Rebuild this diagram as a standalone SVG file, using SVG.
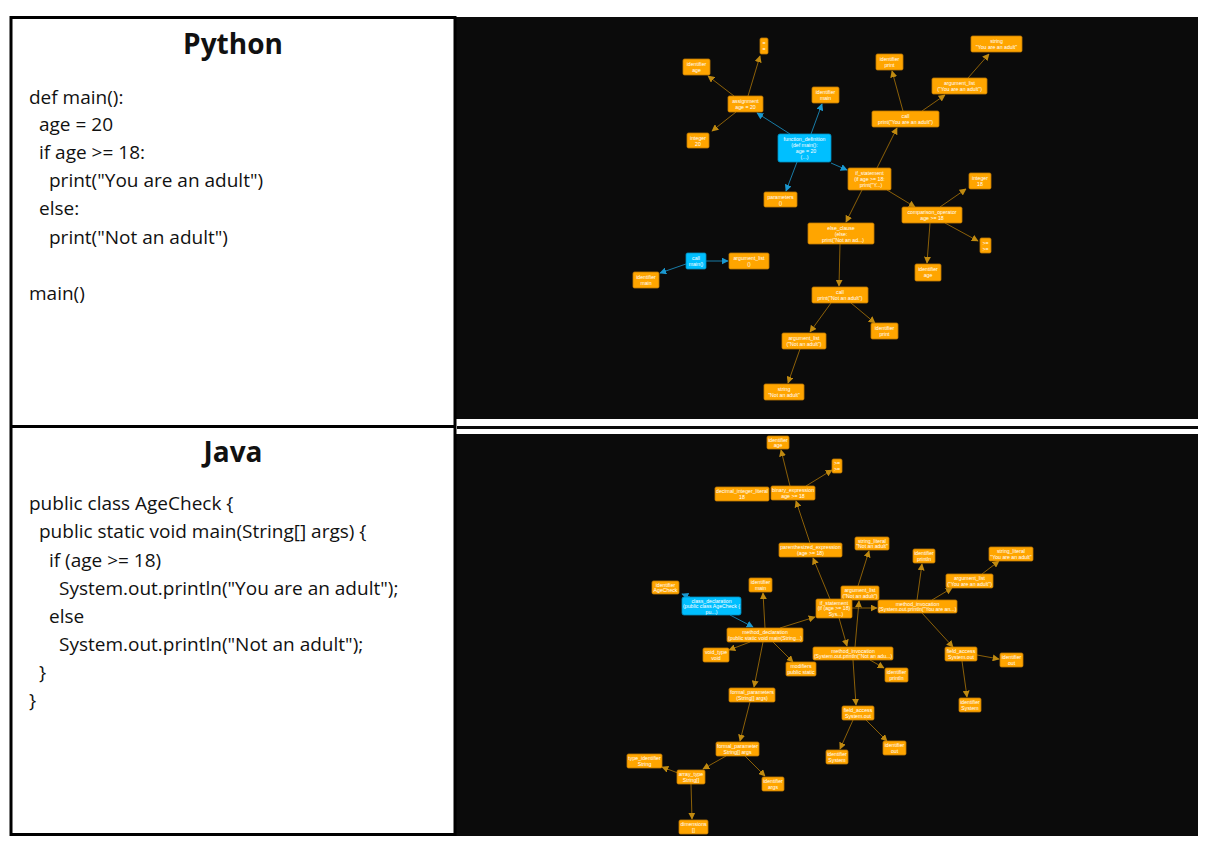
<svg xmlns="http://www.w3.org/2000/svg" width="1206" height="854" viewBox="0 0 1206 854">
<style>
.code{font-family:"Open Sans","Liberation Sans",sans-serif;font-size:19px;fill:#111}
.title{font-family:"Open Sans","Liberation Sans",sans-serif;font-size:28px;font-weight:bold;fill:#111;text-anchor:middle}
.n rect{fill:#FFA500;stroke:#C07800;stroke-width:0.8}
.b rect{fill:#00BFFF;stroke:#0090C0;stroke-width:0.8}
.n text,.b text{font-family:"Liberation Sans",sans-serif;font-size:5.2px;fill:#fff;text-anchor:middle}
.e line{stroke:#9A6A08;stroke-width:0.9;marker-end:url(#ao)}
.e line.bl{stroke:#1A88B8;marker-end:url(#ab)}
</style>
<defs>
<marker id="ao" viewBox="0 0 10 10" refX="9" refY="5" markerWidth="7" markerHeight="7" orient="auto" markerUnits="userSpaceOnUse"><path d="M0,0L10,5L0,10z" fill="#C08A10"/></marker>
<marker id="ab" viewBox="0 0 10 10" refX="9" refY="5" markerWidth="7" markerHeight="7" orient="auto" markerUnits="userSpaceOnUse"><path d="M0,0L10,5L0,10z" fill="#1A98D0"/></marker>
</defs>
<rect width="1206" height="854" fill="#fff"/>
<rect x="455" y="17" width="743" height="402" fill="#0b0b0b"/>
<rect x="455" y="434" width="743" height="402" fill="#0b0b0b"/>
<rect x="457" y="426" width="741" height="3" fill="#0b0b0b"/>
<rect x="11" y="17.5" width="444" height="817" fill="none" stroke="#000" stroke-width="3"/>
<line x1="11" y1="426.5" x2="455" y2="426.5" stroke="#000" stroke-width="3"/>
<text class="title" x="233" y="54">Python</text>
<g class="code">
<text x="29" y="104">def main():</text>
<text x="39" y="131">age = 20</text>
<text x="39" y="159">if age &gt;= 18:</text>
<text x="49" y="187">print("You are an adult")</text>
<text x="39" y="215">else:</text>
<text x="49" y="244">print("Not an adult")</text>
<text x="29" y="300">main()</text>
</g>
<text class="title" x="233" y="462">Java</text>
<g class="code">
<text x="29" y="510">public class AgeCheck {</text>
<text x="39" y="538">public static void main(String[] args) {</text>
<text x="49" y="567">if (age &gt;= 18)</text>
<text x="59" y="595">System.out.println("You are an adult");</text>
<text x="49" y="623">else</text>
<text x="59" y="651">System.out.println("Not an adult");</text>
<text x="39" y="679">}</text>
<text x="29" y="707">}</text>
</g>
<g id="connectors" class="e">
<line class="bl" x1="790" y1="134" x2="757" y2="113"/>
<line class="bl" x1="811" y1="134" x2="822" y2="104"/>
<line class="bl" x1="797" y1="162" x2="786" y2="191"/>
<line class="bl" x1="831" y1="163" x2="847" y2="170"/>
<line x1="734" y1="96" x2="708" y2="76"/>
<line x1="748" y1="96" x2="760" y2="56"/>
<line x1="736" y1="112" x2="712" y2="131"/>
<line x1="877" y1="168" x2="897" y2="128"/>
<line x1="887" y1="190" x2="915" y2="207"/>
<line x1="862" y1="190" x2="846" y2="222"/>
<line x1="903" y1="111" x2="892" y2="71"/>
<line x1="922" y1="111" x2="945" y2="95"/>
<line x1="968" y1="78" x2="989" y2="54"/>
<line x1="940" y1="207" x2="966" y2="189"/>
<line x1="945" y1="223" x2="978" y2="241"/>
<line x1="930" y1="223" x2="927" y2="263"/>
<line x1="840" y1="244" x2="839" y2="286"/>
<line x1="831" y1="303" x2="810" y2="332"/>
<line x1="851" y1="303" x2="875" y2="323"/>
<line x1="800" y1="349" x2="788" y2="383"/>
<line class="bl" x1="686" y1="264" x2="660" y2="273"/>
<line class="bl" x1="706" y1="261" x2="728" y2="261"/>
<line class="bl" x1="690" y1="597" x2="682" y2="594"/>
<line class="bl" x1="730" y1="615" x2="753" y2="627"/>
<line x1="765" y1="628" x2="763" y2="593"/>
<line x1="780" y1="628" x2="815" y2="617"/>
<line x1="750" y1="642" x2="729" y2="650"/>
<line x1="773" y1="642" x2="793" y2="662"/>
<line x1="763" y1="642" x2="754" y2="687"/>
<line x1="830" y1="599" x2="813" y2="558"/>
<line x1="852" y1="608" x2="877" y2="608"/>
<line x1="839" y1="618" x2="847" y2="646"/>
<line x1="810" y1="543" x2="796" y2="501"/>
<line x1="790" y1="486" x2="781" y2="450"/>
<line x1="806" y1="486" x2="832" y2="470"/>
<line x1="917" y1="600" x2="922" y2="564"/>
<line x1="932" y1="600" x2="952" y2="588"/>
<line x1="922" y1="613" x2="953" y2="647"/>
<line x1="982" y1="574" x2="999" y2="561"/>
<line x1="977" y1="655" x2="999" y2="659"/>
<line x1="962" y1="661" x2="967" y2="697"/>
<line x1="855" y1="647" x2="859" y2="601"/>
<line x1="858" y1="586" x2="869" y2="551"/>
<line x1="870" y1="660" x2="884" y2="668"/>
<line x1="853" y1="660" x2="856" y2="705"/>
<line x1="866" y1="720" x2="887" y2="741"/>
<line x1="853" y1="720" x2="840" y2="749"/>
<line x1="750" y1="702" x2="740" y2="741"/>
<line x1="726" y1="756" x2="703" y2="769"/>
<line x1="745" y1="756" x2="765" y2="776"/>
<line x1="678" y1="773" x2="662" y2="767"/>
<line x1="691" y1="784" x2="692" y2="819"/>
</g>
<!-- Python nodes -->
<g id="py_eq" class="n"><rect x="760" y="38" width="8" height="16" rx="1.5"/><text x="764" y="45">=<tspan x="764" dy="6">=</tspan></text></g>
<g id="py_id_age" class="n"><rect x="683" y="59" width="27" height="16" rx="1.5"/><text x="696.5" y="66">identifier<tspan x="696.5" dy="6">age</tspan></text></g>
<g id="py_assign" class="n"><rect x="728" y="96" width="35" height="16" rx="1.5"/><text x="745.5" y="103">assignment<tspan x="745.5" dy="6">age = 20</tspan></text></g>
<g id="py_int20" class="n"><rect x="687" y="133" width="22" height="15" rx="1.5"/><text x="698" y="139.5">integer<tspan x="698" dy="6">20</tspan></text></g>
<g id="py_id_main" class="n"><rect x="812" y="87" width="27" height="16" rx="1.5"/><text x="825.5" y="94">identifier<tspan x="825.5" dy="6">main</tspan></text></g>
<g id="py_funcdef" class="b"><rect x="778" y="134" width="53" height="28" rx="2"/><text x="804.5" y="141">function_definition<tspan x="804.5" dy="6">(def main():</tspan><tspan x="806" dy="6">age = 20</tspan><tspan x="804.5" dy="6">(...)</tspan></text></g>
<g id="py_params" class="n"><rect x="764" y="192" width="33" height="15" rx="1.5"/><text x="780.5" y="198.5">parameters<tspan x="780.5" dy="6">()</tspan></text></g>
<g id="py_if" class="n"><rect x="848" y="168" width="43" height="22" rx="1.5"/><text x="869.5" y="174.5">if_statement<tspan x="869.5" dy="6">(if age &gt;= 18:</tspan><tspan x="871" dy="6">print("Y...)</tspan></text></g>
<g id="py_call_you" class="n"><rect x="872" y="111" width="67" height="16" rx="1.5"/><text x="905.5" y="118">call<tspan x="905.5" dy="6">print("You are an adult")</tspan></text></g>
<g id="py_id_print1" class="n"><rect x="876" y="54" width="27" height="16" rx="1.5"/><text x="889.5" y="61">identifier<tspan x="889.5" dy="6">print</tspan></text></g>
<g id="py_args_you" class="n"><rect x="932" y="78" width="55" height="16" rx="1.5"/><text x="959.5" y="85">argument_list<tspan x="959.5" dy="6">("You are an adult")</tspan></text></g>
<g id="py_str_you" class="n"><rect x="971" y="36" width="51" height="16" rx="1.5"/><text x="996.5" y="43">string<tspan x="996.5" dy="6">"You are an adult"</tspan></text></g>
<g id="py_int18" class="n"><rect x="969" y="173" width="22" height="16" rx="1.5"/><text x="980" y="180">integer<tspan x="980" dy="6">18</tspan></text></g>
<g id="py_comp" class="n"><rect x="902" y="207" width="60" height="16" rx="1.5"/><text x="932" y="214">comparison_operator<tspan x="932" dy="6">age &gt;= 18</tspan></text></g>
<g id="py_else" class="n"><rect x="808" y="223" width="66" height="21" rx="1.5"/><text x="841" y="229.5">else_clause<tspan x="841" dy="6">(else:</tspan><tspan x="843" dy="6">print("Not an ad...)</tspan></text></g>
<g id="py_ge" class="n"><rect x="980" y="238" width="11" height="15" rx="1.5"/><text x="985.5" y="244.5">&gt;=<tspan x="985.5" dy="6">&gt;=</tspan></text></g>
<g id="py_id_age2" class="n"><rect x="915" y="264" width="26" height="17" rx="1.5"/><text x="928" y="271">identifier<tspan x="928" dy="6">age</tspan></text></g>
<g id="py_call_main" class="b"><rect x="686" y="253" width="20" height="16" rx="1.5"/><text x="696" y="260">call<tspan x="696" dy="6">main()</tspan></text></g>
<g id="py_args_empty" class="n"><rect x="729" y="253" width="40" height="16" rx="1.5"/><text x="749" y="260">argument_list<tspan x="749" dy="6">()</tspan></text></g>
<g id="py_id_main2" class="n"><rect x="633" y="272" width="26" height="16" rx="1.5"/><text x="646" y="279">identifier<tspan x="646" dy="6">main</tspan></text></g>
<g id="py_call_not" class="n"><rect x="812" y="287" width="56" height="16" rx="1.5"/><text x="840" y="294">call<tspan x="840" dy="6">print("Not an adult")</tspan></text></g>
<g id="py_id_print2" class="n"><rect x="871" y="323" width="27" height="16" rx="1.5"/><text x="884.5" y="330">identifier<tspan x="884.5" dy="6">print</tspan></text></g>
<g id="py_args_not" class="n"><rect x="782" y="333" width="44" height="16" rx="1.5"/><text x="804" y="340">argument_list<tspan x="804" dy="6">("Not an adult")</tspan></text></g>
<g id="py_str_not" class="n"><rect x="764" y="384" width="40" height="16" rx="1.5"/><text x="784" y="391">string<tspan x="784" dy="6">"Not an adult"</tspan></text></g>
<!-- Java nodes -->
<g id="j_id_age" class="n"><rect x="767" y="436" width="22" height="13" rx="1.5"/><text x="778" y="441.5">identifier<tspan x="778" dy="5.5">age</tspan></text></g>
<g id="j_ge" class="n"><rect x="832" y="459" width="10" height="14" rx="1.5"/><text x="837" y="465">&gt;=<tspan x="837" dy="5.5">&gt;=</tspan></text></g>
<g id="j_dec18" class="n"><rect x="715" y="487" width="54" height="14" rx="1.5"/><text x="742" y="493">decimal_integer_literal<tspan x="742" dy="5.5">18</tspan></text></g>
<g id="j_binary" class="n"><rect x="771" y="486" width="44" height="14" rx="1.5"/><text x="793" y="492">binary_expression<tspan x="793" dy="5.5">age &gt;= 18</tspan></text></g>
<g id="j_paren" class="n"><rect x="779" y="543" width="63" height="14" rx="1.5"/><text x="810.5" y="549">parenthesized_expression<tspan x="810.5" dy="5.5">(age &gt;= 18)</tspan></text></g>
<g id="j_str_not" class="n"><rect x="855" y="537" width="34" height="13" rx="1.5"/><text x="872" y="542.5">string_literal<tspan x="872" dy="5.5">"Not an adult"</tspan></text></g>
<g id="j_id_println1" class="n"><rect x="913" y="549" width="22" height="14" rx="1.5"/><text x="924" y="555">identifier<tspan x="924" dy="5.5">println</tspan></text></g>
<g id="j_str_you" class="n"><rect x="989" y="547" width="44" height="14" rx="1.5"/><text x="1011" y="553">string_literal<tspan x="1011" dy="5.5">"You are an adult"</tspan></text></g>
<g id="j_id_agecheck" class="n"><rect x="652" y="581" width="27" height="13" rx="1.5"/><text x="665.5" y="586.5">identifier<tspan x="665.5" dy="5.5">AgeCheck</tspan></text></g>
<g id="j_class" class="b"><rect x="682" y="597" width="59" height="18" rx="2"/><text x="711.5" y="602.5">class_declaration<tspan x="711.5" dy="5.5">(public class AgeCheck {</tspan><tspan x="711.5" dy="5.5">pu...)</tspan></text></g>
<g id="j_id_main" class="n"><rect x="749" y="578" width="23" height="14" rx="1.5"/><text x="760.5" y="584">identifier<tspan x="760.5" dy="5.5">main</tspan></text></g>
<g id="j_args_you" class="n"><rect x="946" y="574" width="47" height="14" rx="1.5"/><text x="969.5" y="580">argument_list<tspan x="969.5" dy="5.5">("You are an adult")</tspan></text></g>
<g id="j_args_not" class="n"><rect x="841" y="586" width="38" height="14" rx="1.5"/><text x="860" y="592">argument_list<tspan x="860" dy="5.5">("Not an adult")</tspan></text></g>
<g id="j_if" class="n"><rect x="816" y="599" width="36" height="19" rx="1.5"/><text x="834" y="604.5">if_statement<tspan x="834" dy="5.5">(if (age &gt;= 18)</tspan><tspan x="836" dy="5.5">Sys...)</tspan></text></g>
<g id="j_mi_you" class="n"><rect x="878" y="600" width="79" height="13" rx="1.5"/><text x="917.5" y="605.5">method_invocation<tspan x="917.5" dy="5.5">(System.out.println("You are an...)</tspan></text></g>
<g id="j_method_decl" class="n"><rect x="727" y="628" width="76" height="14" rx="1.5"/><text x="765" y="634">method_declaration<tspan x="765" dy="5.5">(public static void main(String...)</tspan></text></g>
<g id="j_void" class="n"><rect x="703" y="648" width="26" height="14" rx="1.5"/><text x="716" y="654">void_type<tspan x="716" dy="5.5">void</tspan></text></g>
<g id="j_modifiers" class="n"><rect x="786" y="662" width="30" height="14" rx="1.5"/><text x="801" y="668">modifiers<tspan x="801" dy="5.5">public static</tspan></text></g>
<g id="j_mi_not" class="n"><rect x="813" y="647" width="80" height="13" rx="1.5"/><text x="853" y="652.5">method_invocation<tspan x="853" dy="5.5">(System.out.println("Not an adu...)</tspan></text></g>
<g id="j_id_println2" class="n"><rect x="885" y="668" width="23" height="14" rx="1.5"/><text x="896.5" y="674">identifier<tspan x="896.5" dy="5.5">println</tspan></text></g>
<g id="j_fa_right" class="n"><rect x="945" y="647" width="32" height="14" rx="1.5"/><text x="961" y="653">field_access<tspan x="961" dy="5.5">System.out</tspan></text></g>
<g id="j_id_out1" class="n"><rect x="1000" y="653" width="23" height="14" rx="1.5"/><text x="1011.5" y="659">identifier<tspan x="1011.5" dy="5.5">out</tspan></text></g>
<g id="j_id_system1" class="n"><rect x="959" y="698" width="22" height="14" rx="1.5"/><text x="970" y="704">identifier<tspan x="970" dy="5.5">System</tspan></text></g>
<g id="j_formal_params" class="n"><rect x="729" y="688" width="46" height="14" rx="1.5"/><text x="752" y="694">formal_parameters<tspan x="752" dy="5.5">(String[] args)</tspan></text></g>
<g id="j_fa_mid" class="n"><rect x="842" y="706" width="32" height="14" rx="1.5"/><text x="858" y="712">field_access<tspan x="858" dy="5.5">System.out</tspan></text></g>
<g id="j_id_out2" class="n"><rect x="883" y="741" width="23" height="14" rx="1.5"/><text x="894.5" y="747">identifier<tspan x="894.5" dy="5.5">out</tspan></text></g>
<g id="j_id_system2" class="n"><rect x="826" y="750" width="22" height="14" rx="1.5"/><text x="837" y="756">identifier<tspan x="837" dy="5.5">System</tspan></text></g>
<g id="j_formal_param" class="n"><rect x="716" y="742" width="43" height="14" rx="1.5"/><text x="737.5" y="748">formal_parameter<tspan x="737.5" dy="5.5">String[] args</tspan></text></g>
<g id="j_type_id" class="n"><rect x="627" y="754" width="35" height="14" rx="1.5"/><text x="644.5" y="760">type_identifier<tspan x="644.5" dy="5.5">String</tspan></text></g>
<g id="j_array_type" class="n"><rect x="677" y="770" width="28" height="14" rx="1.5"/><text x="691" y="776">array_type<tspan x="691" dy="5.5">String[]</tspan></text></g>
<g id="j_id_args" class="n"><rect x="762" y="777" width="22" height="14" rx="1.5"/><text x="773" y="783">identifier<tspan x="773" dy="5.5">args</tspan></text></g>
<g id="j_dims" class="n"><rect x="679" y="820" width="29" height="14" rx="1.5"/><text x="693.5" y="826">dimensions<tspan x="693.5" dy="5.5">[]</tspan></text></g>
</svg>
